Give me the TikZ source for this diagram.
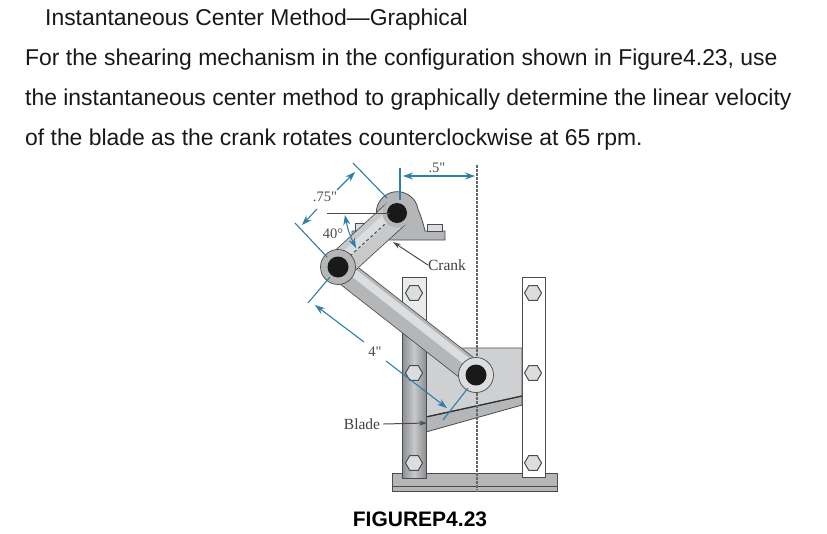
\documentclass[tikz,border=0pt]{standalone}
\usepackage{fontspec}
\setmainfont{Liberation Sans}
\newfontfamily\labelfont{Liberation Serif}
\usetikzlibrary{arrows.meta,calc,shapes.geometric}
\definecolor{dimblue}{HTML}{2F7FA8}
\definecolor{steel}{HTML}{B4B6B8}
\definecolor{steeldark}{HTML}{8C8E90}
\definecolor{steelmid}{HTML}{C8C9CA}
\definecolor{steellight}{HTML}{DCDDDE}
\definecolor{plate}{HTML}{CFD0D2}
\definecolor{edge}{HTML}{4A4C4E}
\tikzset{
  title/.style={anchor=base west,inner sep=0pt,font=\fontsize{22.9}{26}\selectfont,text=black!90},
  partlabel/.style={inner sep=0pt,font=\labelfont\fontsize{15.5}{17}\selectfont,text=black!75},
  dimlabel/.style={inner sep=0pt,font=\labelfont\fontsize{14.5}{16}\selectfont,text=black!70},
  dimline/.style={draw=dimblue,line width=1.1pt},
  dimarrow/.style={dimline,-{Stealth[length=10pt,width=7pt]}},
  dimboth/.style={dimline,{Stealth[length=10pt,width=7pt]}-{Stealth[length=10pt,width=7pt]}},
  leader/.style={draw=black!70,line width=1pt,-{Stealth[length=8pt,width=5pt]}},
  column/.style={left color=steeldark,right color=steeldark,middle color=steelmid},
  openbar/.style={draw=edge,line width=0.9pt,fill=white},
  boltnode/.style={regular polygon,regular polygon sides=6,minimum size=17pt,inner sep=0pt,draw=edge,line width=1pt,fill=steellight},
  pin/.style={circle,minimum size=21pt,inner sep=0pt,fill=black!90},
  eyelet/.style={circle,minimum size=35pt,inner sep=0pt,draw=edge,line width=0.7pt},
}
\begin{document}
\begin{tikzpicture}[x=1pt,y=-1pt]
\useasboundingbox (0,0) rectangle (827,533);
\fill[white] (0,0) rectangle (827,533);
% text
\node[title] (t0) at (45,25) {Instantaneous Center Method—Graphical};
\node[title] (t1) at (25,65) {For the shearing mechanism in the configuration shown in Figure4.23, use};
\node[title] (t2) at (25,105) {the instantaneous center method to graphically determine the linear velocity};
\node[title] (t3) at (25,145) {of the blade as the crank rotates counterclockwise at 65 rpm.};
\node[inner sep=0pt,font=\bfseries\fontsize{21}{24}\selectfont] (cap) at (420,519) {FIGUREP4.23};
% base and frame
\path[fill=steel,draw=edge,line width=0.9pt] (392,473) rectangle (557,491);
\draw[edge,line width=0.6pt] (392,486) -- (557,486);
\draw[openbar] (522,277) rectangle (545,477);
\path[fill=plate,draw=edge,line width=0.8pt] (426,348) -- (522,348) -- (522,397) -- (426,417) -- cycle;
\path[fill=steel,draw=edge,line width=0.8pt] (426,417) -- (522,396) -- (522,405) -- (426,432) -- cycle;
\draw[black!80,line width=1.3pt] (426,417) -- (522,396);
\draw[edge,fill=steellight!60,line width=1pt] (402,277) rectangle (426,325);
\path[column] (402,325) rectangle (426,478);
\draw[edge,line width=1pt] (402,325) -- (402,478) -- (426,478) -- (426,325);
% bolts
\node[boltnode] (b1) at (414,293) {};
\node[boltnode] (b2) at (414,373) {};
\node[boltnode] (b3) at (414,463) {};
\node[boltnode] (b4) at (533,293) {};
\node[boltnode] (b5) at (533,373) {};
\node[boltnode] (b6) at (533,463) {};
% center line
\coordinate (cl1) at (477,165);
\coordinate (cl2) at (477,490);
\draw[black!60,line width=1.4pt,dash pattern=on 2.5pt off 1.5pt] (cl1) -- (cl2);
% bracket
\path[fill=steel,draw=edge,line width=0.8pt] (352,240) -- (445,240) -- (445,231) -- (425,231) .. controls (423,222) and (420,214) .. (418,209) arc[start angle=-10,end angle=-180,radius=21] -- (377,231) -- (352,231) -- cycle;
\draw[edge,fill=steellight,line width=0.8pt] (355,223) rectangle (365,231);
\draw[edge,fill=steellight,line width=0.8pt] (427,224) rectangle (442,231);
% pin positions
\coordinate (pa) at (397,213);
\coordinate (pb) at (338,267);
\coordinate (pc) at (476,375);
% link
\draw[edge,line width=25pt] (pb) -- (pc);
\draw[steel,line width=23.4pt] (pb) -- (pc);
\draw[steellight,line width=8pt] ($(pb)+(3,-4)$) -- ($(pc)+(3,-4)$);
% crank
\draw[edge,line width=29pt] (pb) -- (pa);
\draw[steelmid,line width=27.4pt] (pb) -- (pa);
\draw[steellight,line width=9pt] ($(pb)+(-2,-3)$) -- ($(pa)+(-2,-3)$);
\draw[black!70,line width=1pt,dash pattern=on 3pt off 2.5pt] (pb) -- (pa);
% eyelets and pins
\node[circle,minimum size=29pt,inner sep=0pt,fill=steel] (ea) at (pa) {};
\node[eyelet,fill=steel] (eb) at (pb) {};
\node[eyelet,fill=steellight] (ec) at (pc) {};
\node[pin,minimum size=20pt] (na) at (pa) {};
\node[pin] (nb) at (pb) {};
\node[pin] (nc) at (pc) {};
% dimension .75
\coordinate (e1a) at (353,163); \coordinate (e1b) at (387,198);
\coordinate (e2a) at (295,223); \coordinate (e2b) at (327,257);
\coordinate (d1a) at (355,172); \coordinate (d1b) at (337,190);
\coordinate (d1c) at (317,209); \coordinate (d1d) at (302,225);
\draw[dimline] (e1a) -- (e1b);
\draw[dimline] (e2a) -- (e2b);
\draw[dimarrow] (d1b) -- (d1a);
\draw[dimarrow] (d1c) -- (d1d);
\node[dimlabel] (l75) at (325,197) {.75"};
% dimension .5
\coordinate (e3a) at (400,168); \coordinate (e3b) at (400,200);
\coordinate (d2a) at (403,176); \coordinate (d2b) at (475,176);
\draw[dimline] (e3a) -- (e3b);
\draw[dimboth] (d2a) -- (d2b);
\node[dimlabel] (l5) at (437,168) {.5"};
% 40 degrees
\coordinate (h1) at (327,213); \coordinate (h2) at (390,213);
\coordinate (ar1) at (356,248); \coordinate (ar2) at (345,215);
\draw[edge,line width=0.9pt] (h1) -- (h2);
\draw[dimboth] (ar1) to[bend left=8] (ar2);
\node[dimlabel] (l40) at (333,234) {40°};
% dimension 4
\coordinate (e4a) at (330,277); \coordinate (e4b) at (308,303);
\coordinate (e5a) at (468,388); \coordinate (e5b) at (443,420);
\coordinate (d3a) at (315,305); \coordinate (d3b) at (364,342);
\coordinate (d3c) at (386,361); \coordinate (d3d) at (447,408);
\draw[dimline] (e4a) -- (e4b);
\draw[dimline] (e5a) -- (e5b);
\draw[dimarrow] (d3b) -- (d3a);
\draw[dimarrow] (d3c) -- (d3d);
\node[dimlabel] (l4) at (375,352) {4"};
% part labels
\node[partlabel] (crank) at (447,265) {Crank};
\coordinate (ct) at (393,242);
\draw[leader] (crank.west) -- (ct);
\node[partlabel] (blade) at (362,424) {Blade};
\coordinate (bt) at (427,423);
\draw[leader] (blade.east) ++(3,0) -- (bt);
\end{tikzpicture}
\end{document}
